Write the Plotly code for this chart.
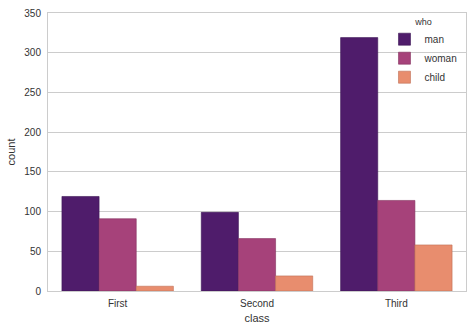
import plotly.graph_objects as go

classes = ["First", "Second", "Third"]
who = ["man", "woman", "child"]
counts_man = [119, 99, 319]
counts_woman = [91, 66, 114]
counts_child = [6, 19, 58]
colors = ["#4f1c6b", "#a6427a", "#e88d6e"]
edges = ["#3d1555", "#85335f", "#c06f55"]

series = [counts_man, counts_woman, counts_child]

fig = go.Figure()
for name, vals, c, e in zip(who, series, colors, edges):
    fig.add_trace(go.Bar(x=classes, y=vals, name=name, marker_color=c,
                         marker_line_color=e, marker_line_width=0.6))

font = dict(family="Liberation Sans, Arial, sans-serif", size=10, color="#333333")
fig.update_layout(
    width=474, height=331,
    margin=dict(l=48, r=8, t=13, b=40),
    plot_bgcolor="white", paper_bgcolor="white",
    barmode="group", bargap=0.2, bargroupgap=0,
    font=font,
    legend=dict(x=0.805, y=1.0, xanchor="left", yanchor="top",
                bgcolor="rgba(0,0,0,0)",
                title=dict(text="who", side="top center", font=dict(size=9)),
                font=dict(size=10), itemwidth=30, tracegroupgap=0),
    xaxis=dict(title=dict(text="class", font=dict(size=11), standoff=6),
               showline=True, linecolor="#cccccc", linewidth=1, mirror=True,
               showgrid=False, ticks="outside", ticklen=3, tickcolor="rgba(0,0,0,0)",
               range=[-0.5, 2.5]),
    yaxis=dict(title=dict(text="count", font=dict(size=11), standoff=6),
               range=[0, 350], dtick=50,
               showline=True, linecolor="#cccccc", linewidth=1, mirror=True,
               gridcolor="#cccccc", gridwidth=1, zeroline=False,
               ticks="outside", ticklen=4, tickcolor="rgba(0,0,0,0)"),
)
fig.write_html("out.html")
